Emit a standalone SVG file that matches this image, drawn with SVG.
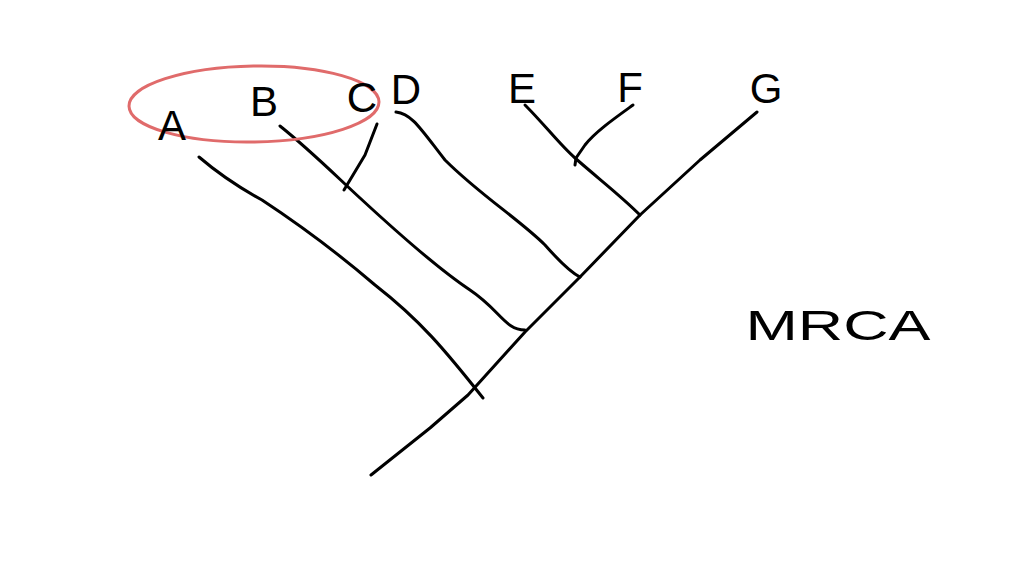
<svg xmlns="http://www.w3.org/2000/svg" width="1024" height="576" viewBox="0 0 1024 576">
<style>
.br{fill:none;stroke:#000;stroke-width:3;stroke-linecap:round;stroke-linejoin:round}
.lb{font-family:"Liberation Sans",Arial,sans-serif;font-size:42px;fill:#000}
</style>
<rect width="1024" height="576" fill="#fff"/>
<g id="connectors">
<path class="br" d="M371,475 L430,428 L468,395 L525,332 L580,277 L640,215 L700,160 L757,112"/>
<path class="br" d="M199,157 C220,175 240,188 262,200 C300,225 340,255 375,285 C420,320 445,350 483,398"/>
<path class="br" d="M280,126 C310,150 335,175 360,198 C400,235 440,270 470,290 C500,310 505,330 525,330"/>
<path class="br" d="M377,124 L365,155 L344,190"/>
<path class="br" d="M396,112 C412,114 420,128 445,160 C480,195 520,220 545,245 C560,262 570,272 580,277"/>
<path class="br" d="M525,105 C545,125 560,145 575,158 C600,180 620,195 640,215"/>
<path class="br" d="M633,105 C615,118 595,132 585,145 L576,158 L575,165"/>
</g>
<g id="group-ABC">
<ellipse cx="254" cy="104" rx="125" ry="38" transform="rotate(-1 254 104)" fill="none" stroke="#e06b6b" stroke-width="3"/>
</g>
<g id="node-A"><text class="lb" x="172" y="140" text-anchor="middle">A</text></g>
<g id="node-B"><text class="lb" x="264" y="116" text-anchor="middle">B</text></g>
<g id="node-C"><text class="lb" x="362" y="112" text-anchor="middle">C</text></g>
<g id="node-D"><text class="lb" x="406" y="104" text-anchor="middle">D</text></g>
<g id="node-E"><text class="lb" x="522" y="103" text-anchor="middle">E</text></g>
<g id="node-F"><text class="lb" x="630" y="102" text-anchor="middle">F</text></g>
<g id="node-G"><text class="lb" x="766" y="103" text-anchor="middle">G</text></g>
<g id="label-MRCA"><text class="lb" x="838" y="340" text-anchor="middle" textLength="185" lengthAdjust="spacingAndGlyphs" font-size="46">MRCA</text></g>
</svg>
